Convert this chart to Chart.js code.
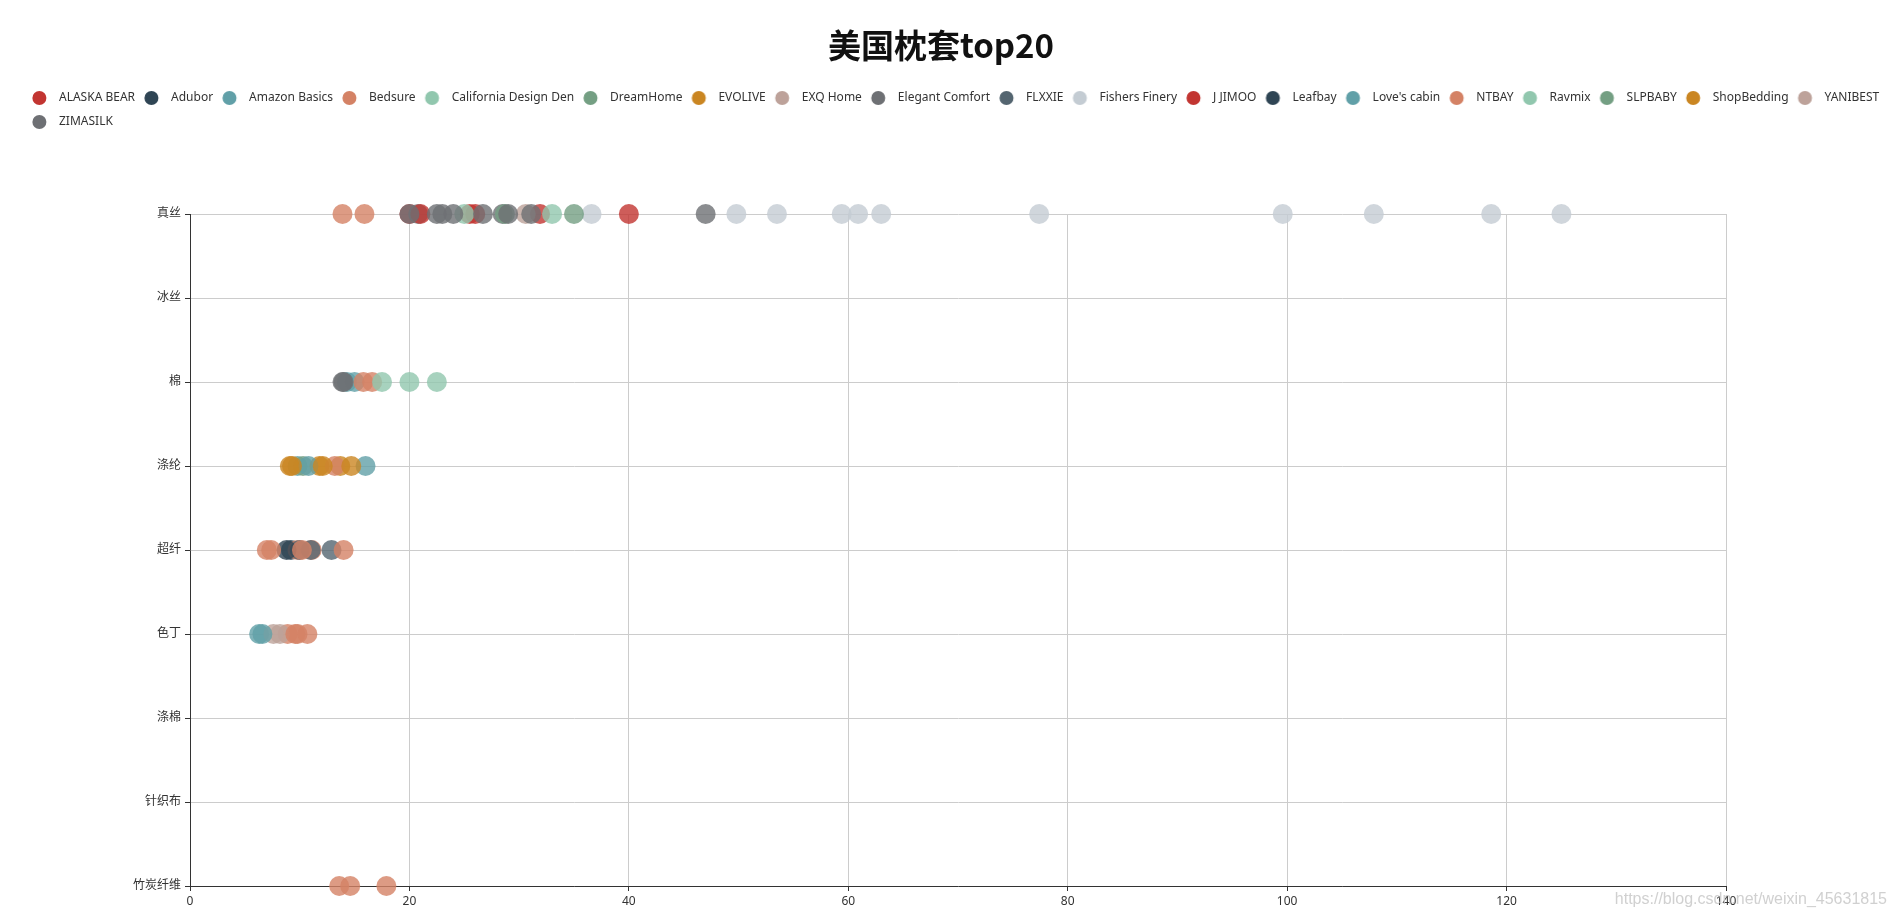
<!DOCTYPE html>
<html>
<head>
<meta charset="utf-8">
<title>美国枕套top20</title>
<script src="https://cdn.jsdelivr.net/npm/chart.js@4/dist/chart.umd.min.js"></script>
<style>
  html, body { margin: 0; padding: 0; background: #fff; }
  #wrap { position: relative; width: 1895px; height: 918px; }
  #title {
    position: absolute; left: 0; top: 20px; width: 1882px;
    text-align: center; line-height: 40px; color: #111;
    font: bold 33px "Microsoft YaHei", "Noto Sans CJK SC", sans-serif;
  }
  #mark {
    position: absolute; right: 8px; top: 890px;
    font: 16px "Liberation Sans", Arial, sans-serif;
    color: rgba(200, 200, 200, 0.85);
  }
</style>
</head>
<body>
<div id="wrap">
  <canvas id="myScatterChart"></canvas>
  <div id="title">美国枕套top20</div>
  <div id="mark">https://blog.csdn.net/weixin_45631815</div>
</div>
<script>
var materials = ["真丝", "冰丝", "棉", "涤纶", "超纤", "色丁", "涤棉", "针织布", "竹炭纤维"];
var brands = ["ALASKA BEAR", "Adubor", "Amazon Basics", "Bedsure", "California Design Den",
  "DreamHome", "EVOLIVE", "EXQ Home", "Elegant Comfort", "FLXXIE", "Fishers Finery",
  "J JIMOO", "Leafbay", "Love's cabin", "NTBAY", "Ravmix", "SLPBABY", "ShopBedding",
  "YANIBEST", "ZIMASILK"];
var xTicks = [0, 20, 40, 60, 80, 100, 120, 140];

// [material, price] per brand
var alaskaBear = [["真丝", 20.0], ["真丝", 26.0], ["真丝", 31.9], ["真丝", 40.0]];
var adubor = [["超纤", 9.2]];
var amazonBasics = [["棉", 14.3], ["棉", 15.0], ["涤纶", 9.8], ["涤纶", 16.0], ["色丁", 6.3]];
var bedsure = [["真丝", 13.9], ["真丝", 15.9], ["棉", 15.8], ["棉", 16.6], ["超纤", 7.0],
  ["超纤", 9.8], ["超纤", 11.1], ["色丁", 8.9], ["色丁", 9.8],
  ["竹炭纤维", 13.6], ["竹炭纤维", 14.6], ["竹炭纤维", 17.9]];
var californiaDesignDen = [["棉", 17.5], ["棉", 20.0], ["棉", 22.5]];
var dreamHome = [["涤纶", 10.3]];
var evolive = [["涤纶", 9.1], ["涤纶", 11.8], ["涤纶", 13.7]];
var exqHome = [["色丁", 7.6], ["色丁", 8.2]];
var elegantComfort = [["真丝", 20.8], ["真丝", 23.0], ["真丝", 28.5], ["棉", 14.0]];
var flxxie = [["超纤", 10.0], ["超纤", 11.0], ["超纤", 12.9]];
var fishersFinery = [["真丝", 36.6], ["真丝", 49.8], ["真丝", 53.5], ["真丝", 59.4], ["真丝", 60.9],
  ["真丝", 63.0], ["真丝", 77.4], ["真丝", 99.6], ["真丝", 107.9], ["真丝", 118.6], ["真丝", 125.0]];
var jJimoo = [["真丝", 21.0], ["真丝", 25.5]];
var leafbay = [["超纤", 8.8]];
var lovesCabin = [["涤纶", 10.8], ["色丁", 6.6]];
var ntbay = [["涤纶", 13.2], ["超纤", 7.4], ["超纤", 10.2], ["超纤", 14.0],
  ["色丁", 9.6], ["色丁", 10.7]];
var ravmix = [["真丝", 25.0], ["真丝", 33.0]];
var slpbaby = [["真丝", 28.7], ["真丝", 35.0]];
var shopBedding = [["涤纶", 9.3], ["涤纶", 12.1], ["涤纶", 14.7]];
var yanibest = [["真丝", 30.6]];
var zimasilk = [["真丝", 20.0], ["真丝", 22.5], ["真丝", 24.0], ["真丝", 26.7], ["真丝", 29.0],
  ["真丝", 31.1], ["真丝", 47.0], ["棉", 13.9]];

var brandPoints = [alaskaBear, adubor, amazonBasics, bedsure, californiaDesignDen, dreamHome,
  evolive, exqHome, elegantComfort, flxxie, fishersFinery, jJimoo, leafbay, lovesCabin, ntbay,
  ravmix, slpbaby, shopBedding, yanibest, zimasilk];

var palette = ["#c23531", "#2f4554", "#61a0a8", "#d48265", "#91c7ae", "#749f83",
  "#ca8622", "#bda29a", "#6e7074", "#546570", "#c4ccd3"];

function withAlpha(hex, a) {
  var n = parseInt(hex.slice(1), 16);
  return "rgba(" + (n >> 16) + "," + ((n >> 8) & 255) + "," + (n & 255) + "," + a + ")";
}

// legend dot, drawn a bit left of the box centre
function legendDot(color) {
  var c = document.createElement("canvas");
  c.width = 30;
  c.height = 14;
  var g = c.getContext("2d");
  g.fillStyle = color;
  g.beginPath();
  g.arc(10.4, 7, 7, 0, Math.PI * 2);
  g.fill();
  return c;
}

var dots = brands.map(function (b, i) { return legendDot(palette[i % palette.length]); });

var datasets = brands.map(function (name, i) {
  var color = palette[i % palette.length];
  return {
    label: name,
    data: brandPoints[i].map(function (p) { return { x: p[1], y: p[0] }; }),
    backgroundColor: withAlpha(color, 0.8),
    borderWidth: 0,
    pointRadius: 10,
    pointHoverRadius: 10,
    order: brands.length - i
  };
});

var legendSpacer = {
  id: "legendSpacer",
  beforeInit: function (chart) {
    var fit = chart.legend.fit;
    chart.legend.fit = function () {
      fit.call(this);
      this.height += 76;
    };
  }
};

var font = "'Microsoft YaHei', 'Noto Sans', 'Noto Sans CJK SC', sans-serif";

document.addEventListener("DOMContentLoaded", function () {
  var ctx = document.getElementById("myScatterChart").getContext("2d");
  var myScatterChart = new Chart(ctx, {
    type: "scatter",
    data: { labels: materials, datasets: datasets },
    plugins: [legendSpacer],
    options: {
      responsive: true,
      maintainAspectRatio: false,
      animation: false,
      layout: { padding: { left: 23, top: 80, right: 0, bottom: 0 } },
      plugins: {
        title: { display: false },
        tooltip: { enabled: false },
        legend: {
          display: true,
          position: "top",
          align: "start",
          labels: {
            usePointStyle: true,
            pointStyleWidth: 18,
            padding: 12,
            color: "#333",
            font: { family: font, size: 12 },
            sort: function (a, b) { return a.datasetIndex - b.datasetIndex; },
            generateLabels: function (chart) {
              var items = Chart.defaults.plugins.legend.labels.generateLabels(chart);
              items.forEach(function (it) { it.pointStyle = dots[it.datasetIndex]; });
              return items;
            }
          }
        }
      },
      scales: {
        x: {
          type: "linear",
          position: "bottom",
          min: xTicks[0],
          max: xTicks[xTicks.length - 1],
          afterBuildTicks: function (scale) {
            scale.ticks = xTicks.map(function (v) { return { value: v }; });
          },
          afterFit: function (scale) { scale.height = 32; },
          grid: { color: "#ccc", tickColor: "#333", tickLength: 5 },
          border: { color: "#333" },
          ticks: { color: "#333", padding: 3, font: { family: font, size: 12 } }
        },
        y: {
          type: "category",
          labels: materials,
          position: "left",
          offset: false,
          afterFit: function (scale) { scale.width = 167; },
          grid: { color: "#ccc", tickColor: "#333", tickLength: 5 },
          border: { color: "#333" },
          ticks: { color: "#333", padding: 4, font: { family: font, size: 12 } }
        },
        yRight: {
          type: "linear",
          position: "right",
          display: true,
          grid: { display: false },
          border: { display: false },
          ticks: { display: false },
          afterFit: function (scale) { scale.width = 169; }
        }
      }
    }
  });
});
</script>
</body>
</html>
